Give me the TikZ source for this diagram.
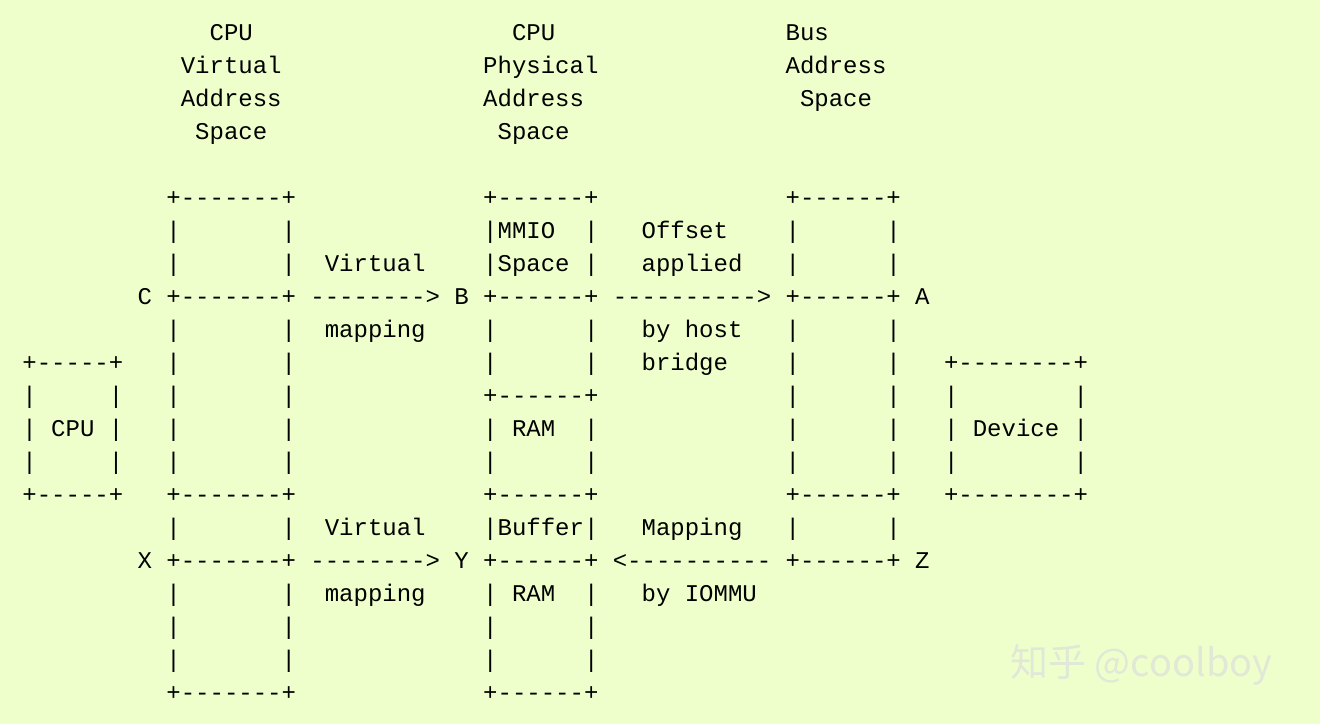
\documentclass[tikz,border=0pt]{standalone}
\usepackage{fontspec}
\setmonofont{Liberation Mono}
\newfontfamily\cjk{Noto Sans CJK SC}
\definecolor{bg}{RGB}{239,255,204}
\definecolor{wm}{RGB}{225,232,215}
\newcommand\T[3]{\node[txt] at ({(22+#1*14.4)*0.5pt},{-(40+#2*33)*0.5pt}) {#3};}
\begin{document}
\begin{tikzpicture}[txt/.style={anchor=base west,inner sep=0pt,font=\ttfamily\fontsize{12}{14}\selectfont}]
\fill[bg] (0,0) rectangle (660pt,-362pt);
\useasboundingbox (0,0) rectangle (660pt,-362pt);
% headers
\T{13}{0}{CPU}\T{34}{0}{CPU}\T{53}{0}{Bus}
\T{11}{1}{Virtual}\T{32}{1}{Physical}\T{53}{1}{Address}
\T{11}{2}{Address}\T{32}{2}{Address}\T{54}{2}{Space}
\T{12}{3}{Space}\T{33}{3}{Space}
% row 5
\T{10}{5}{+-------+}\T{32}{5}{+------+}\T{53}{5}{+------+}
% row 6
\T{10}{6}{|~~~~~~~|}\T{32}{6}{|MMIO~~|}\T{43}{6}{Offset}\T{53}{6}{|~~~~~~|}
% row 7
\T{10}{7}{|~~~~~~~|}\T{21}{7}{Virtual}\T{32}{7}{|Space~|}\T{43}{7}{applied}\T{53}{7}{|~~~~~~|}
% row 8
\T{8}{8}{C}\T{10}{8}{+-------+}\T{20}{8}{-------->}\T{30}{8}{B}\T{32}{8}{+------+}\T{41}{8}{---------->}\T{53}{8}{+------+}\T{62}{8}{A}
% row 9
\T{10}{9}{|~~~~~~~|}\T{21}{9}{mapping}\T{32}{9}{|~~~~~~|}\T{43}{9}{by~host}\T{53}{9}{|~~~~~~|}
% row 10
\T{0}{10}{+-----+}\T{10}{10}{|~~~~~~~|}\T{32}{10}{|~~~~~~|}\T{43}{10}{bridge}\T{53}{10}{|~~~~~~|}\T{64}{10}{+--------+}
% row 11
\T{0}{11}{|~~~~~|}\T{10}{11}{|~~~~~~~|}\T{32}{11}{+------+}\T{53}{11}{|~~~~~~|}\T{64}{11}{|~~~~~~~~|}
% row 12
\T{0}{12}{|~CPU~|}\T{10}{12}{|~~~~~~~|}\T{32}{12}{|~RAM~~|}\T{53}{12}{|~~~~~~|}\T{64}{12}{|~Device~|}
% row 13
\T{0}{13}{|~~~~~|}\T{10}{13}{|~~~~~~~|}\T{32}{13}{|~~~~~~|}\T{53}{13}{|~~~~~~|}\T{64}{13}{|~~~~~~~~|}
% row 14
\T{0}{14}{+-----+}\T{10}{14}{+-------+}\T{32}{14}{+------+}\T{53}{14}{+------+}\T{64}{14}{+--------+}
% row 15
\T{10}{15}{|~~~~~~~|}\T{21}{15}{Virtual}\T{32}{15}{|Buffer|}\T{43}{15}{Mapping}\T{53}{15}{|~~~~~~|}
% row 16
\T{8}{16}{X}\T{10}{16}{+-------+}\T{20}{16}{-------->}\T{30}{16}{Y}\T{32}{16}{+------+}\T{41}{16}{<----------}\T{53}{16}{+------+}\T{62}{16}{Z}
% row 17
\T{10}{17}{|~~~~~~~|}\T{21}{17}{mapping}\T{32}{17}{|~RAM~~|}\T{43}{17}{by~IOMMU}
% rows 18-20
\T{10}{18}{|~~~~~~~|}\T{32}{18}{|~~~~~~|}
\T{10}{19}{|~~~~~~~|}\T{32}{19}{|~~~~~~|}
\T{10}{20}{+-------+}\T{32}{20}{+------+}
% watermark
\node[anchor=base west,inner sep=0pt,text=wm,font=\cjk\fontsize{19}{21}\selectfont] (wm) at (505pt,-338pt) {知乎 @coolboy};
\end{tikzpicture}
\end{document}
